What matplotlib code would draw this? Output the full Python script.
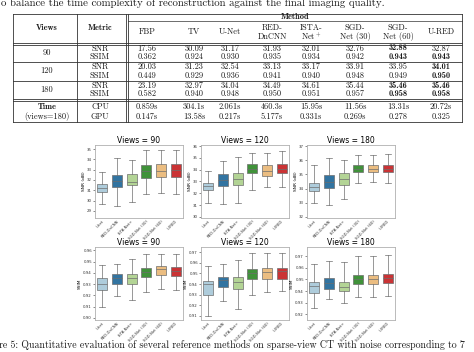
import matplotlib.pyplot as plt
import seaborn as sns
from matplotlib.lines import Line2D

plt.rcParams['mathtext.fontset'] = 'cm'

# ---------------- table data ----------------
head_top = ['FBP', 'TV', 'U-Net', 'RED-', 'ISTA-', 'SGD-', 'SGD-', 'U-RED']
head_bot = ['', '', '', 'DnCNN', r'Net$^+$', 'Net (30)', 'Net (60)', '']
snr_90 = ['17.56', '30.09', '31.17', '31.93', '32.01', '32.76', '32.88', '32.87']
ssim_90 = ['0.362', '0.924', '0.930', '0.935', '0.934', '0.942', '0.943', '0.943']
snr_120 = ['20.03', '31.23', '32.54', '33.13', '33.17', '33.91', '33.95', '34.01']
ssim_120 = ['0.449', '0.929', '0.936', '0.941', '0.940', '0.948', '0.949', '0.950']
snr_180 = ['23.19', '32.97', '34.04', '34.49', '34.61', '35.44', '35.46', '35.46']
ssim_180 = ['0.582', '0.940', '0.948', '0.950', '0.951', '0.957', '0.958', '0.958']
cpu_time = ['0.859s', '304.1s', '2.061s', '460.3s', '15.95s', '11.56s', '13.31s', '20.72s']
gpu_time = ['0.147s', '13.58s', '0.217s', '5.177s', '0.331s', '0.269s', '0.278', '0.325']
bold_90 = [[6], [6, 7]]
bold_120 = [[7], [7]]
bold_180 = [[6, 7], [6, 7]]

# ---------------- box plot data (whislo, q1, med, q3, whishi) ----------------
box_methods = ['Unet', 'RED-DnCNN', 'ISTA-Net+', 'SGD-Net (30)', 'SGD-Net (60)', 'U-RED']
box_colors = ['#a6cee3', '#1f78b4', '#b2df8a', '#33a02c', '#fdbf6f', '#e31a1c']
snr_box_90 = [(29.7, 30.8, 31.2, 31.6, 32.8), (29.5, 31.3, 31.9, 32.5, 34.1),
              (29.9, 31.5, 31.8, 32.6, 33.9), (30.6, 32.2, 32.9, 33.5, 34.9),
              (30.7, 32.3, 32.9, 33.6, 34.9), (30.6, 32.3, 33.0, 33.6, 34.9)]
snr_box_120 = [(31.2, 32.3, 32.6, 32.9, 33.9), (31.1, 32.6, 33.1, 33.6, 34.7),
               (31.2, 32.7, 33.2, 33.7, 35.1), (32.3, 33.7, 34.1, 34.5, 35.4),
               (32.5, 33.5, 33.9, 34.4, 35.4), (32.5, 33.7, 34.1, 34.5, 35.6)]
snr_box_180 = [(33.0, 33.8, 34.1, 34.4, 35.7), (32.8, 34.05, 34.5, 34.95, 36.2),
               (33.25, 34.27, 34.7, 35.07, 36.05), (34.4, 35.16, 35.4, 35.64, 36.4),
               (34.45, 35.16, 35.4, 35.64, 36.4), (34.4, 35.16, 35.4, 35.66, 36.45)]
ssim_box_90 = [(0.910, 0.925, 0.930, 0.935, 0.947), (0.919, 0.9305, 0.935, 0.9394, 0.948),
               (0.916, 0.930, 0.935, 0.9394, 0.952), (0.923, 0.936, 0.941, 0.944, 0.957),
               (0.926, 0.938, 0.943, 0.946, 0.957), (0.925, 0.937, 0.942, 0.945, 0.957)]
ssim_box_120 = [(0.910, 0.930, 0.940, 0.943, 0.957), (0.924, 0.937, 0.9435, 0.947, 0.959),
                (0.9165, 0.935, 0.942, 0.947, 0.963), (0.930, 0.945, 0.950, 0.954, 0.969),
                (0.932, 0.945, 0.951, 0.955, 0.969), (0.933, 0.945, 0.952, 0.955, 0.969)]
ssim_box_180 = [(0.925, 0.938, 0.944, 0.948, 0.963), (0.933, 0.942, 0.947, 0.951, 0.966),
                (0.930, 0.940, 0.9435, 0.948, 0.965), (0.935, 0.946, 0.950, 0.954, 0.970),
                (0.935, 0.946, 0.950, 0.954, 0.970), (0.936, 0.947, 0.951, 0.955, 0.971)]

fig = plt.figure(figsize=(4.74, 3.52), dpi=100)
page = fig.add_axes([0, 0, 1, 1])
page.set_xlim(0, 474)
page.set_ylim(352, 0)
page.axis('off')

ink = '#1a1a1a'
rm = dict(family='cmr10', color=ink, ha='center', va='center')
bf = dict(family='cmb10', color=ink, ha='center', va='center')

page.text(1, 3, 'o balance the time complexity of reconstruction against the final imaging quality.',
          family='cmr10', fontsize=7.8, color=ink, ha='left', va='center')

# table grid
x0, x1 = 13, 462
for y in [13.5, 42.5, 44.5, 62, 80.5, 98.5, 100.5, 122]:
    page.add_line(Line2D([x0, x1], [y, y], color='#333', lw=0.6))
page.add_line(Line2D([128, x1], [21, 21], color='#333', lw=0.5))
for x in [x0, 77, 126, 128, x1]:
    page.add_line(Line2D([x, x], [13.5, 122], color='#333', lw=0.6))

col_x = [147, 194, 230, 272, 311, 355, 398, 441]
fs = 6.0
page.text(295, 17, 'Method', fontsize=fs, **bf)
page.text(47, 28.5, 'Views', fontsize=fs, **bf)
page.text(100, 28.5, 'Metric', fontsize=fs, **bf)
for x, t, b in zip(col_x, head_top, head_bot):
    if b:
        page.text(x, 27.5, t, fontsize=fs, **rm)
        page.text(x, 36.5, b, fontsize=fs, **rm)
    else:
        page.text(x, 32, t, fontsize=fs, **rm)

rows = [('90', snr_90, ssim_90, bold_90, 48.5, 57),
        ('120', snr_120, ssim_120, bold_120, 67, 75.5),
        ('180', snr_180, ssim_180, bold_180, 85.5, 94)]
for v, snr, ssim, bold, ya, yb in rows:
    page.text(47, (ya + yb) / 2, v, fontsize=fs, **rm)
    page.text(100, ya, 'SNR', fontsize=fs, **rm)
    page.text(100, yb, 'SSIM', fontsize=fs, **rm)
    for i, x in enumerate(col_x):
        page.text(x, ya, snr[i], fontsize=fs, **(bf if i in bold[0] else rm))
        page.text(x, yb, ssim[i], fontsize=fs, **(bf if i in bold[1] else rm))

page.text(47, 107, 'Time', fontsize=fs, **bf)
page.text(47, 116.5, '(views=180)', fontsize=fs, **rm)
page.text(100, 107, 'CPU', fontsize=fs, **rm)
page.text(100, 116.5, 'GPU', fontsize=fs, **rm)
for i, x in enumerate(col_x):
    page.text(x, 107, cpu_time[i], fontsize=fs, **rm)
    page.text(x, 116.5, gpu_time[i], fontsize=fs, **rm)

page.text(-1, 345, 're 5: Quantitative evaluation of several reference methods on sparse-view CT with noise corresponding to 7',
          family='cmr10', fontsize=7.1, color=ink, ha='left', va='center')

# ---------------- box plots ----------------
panels = [(snr_box_90, 'Views = 90', 'SNR (dB)', (28.3, 35.4), [29, 30, 31, 32, 33, 34, 35]),
          (snr_box_120, 'Views = 120', 'SNR (dB)', (29.9, 36.1), [30, 31, 32, 33, 34, 35, 36]),
          (snr_box_180, 'Views = 180', 'SNR (dB)', (31.9, 37.1), [32, 33, 34, 35, 36, 37]),
          (ssim_box_90, 'Views = 90', 'SSIM', (0.898, 0.963), [0.90, 0.91, 0.92, 0.93, 0.94, 0.95, 0.96]),
          (ssim_box_120, 'Views = 120', 'SSIM', (0.906, 0.975), [0.91, 0.92, 0.93, 0.94, 0.95, 0.96, 0.97]),
          (ssim_box_180, 'Views = 180', 'SSIM', (0.915, 0.978), [0.92, 0.93, 0.94, 0.95, 0.96, 0.97])]
lefts = [95, 201, 307]
tops = [145, 247]
w, h = 88, 73
line_c = '#6e6e6e'
for k, (data, title, ylab, ylim, yticks) in enumerate(panels):
    l = lefts[k % 3]
    t = tops[k // 3]
    ax = fig.add_axes([l / 474, 1 - (t + h) / 352, w / 474, h / 352])
    stats = [dict(whislo=s[0], q1=s[1], med=s[2], q3=s[3], whishi=s[4], label=m)
             for s, m in zip(data, box_methods)]
    bp = ax.bxp(stats, showfliers=False, patch_artist=True, widths=0.7, capwidths=0.4,
                boxprops=dict(edgecolor=line_c, linewidth=0.5),
                whiskerprops=dict(color=line_c, linewidth=0.5),
                capprops=dict(color=line_c, linewidth=0.5),
                medianprops=dict(color=line_c, linewidth=0.5))
    for patch, c in zip(bp['boxes'], box_colors):
        patch.set_facecolor(sns.desaturate(c, 0.75))
    ax.set_ylim(*ylim)
    ax.set_yticks(yticks)
    ax.set_xlim(0.5, 6.5)
    ax.set_title(title, fontsize=5.5, pad=1.5)
    ax.set_ylabel(ylab, fontsize=3.2, labelpad=1)
    ax.tick_params(axis='both', labelsize=2.8, length=1.2, width=0.4, pad=1, colors='#333')
    ax.tick_params(axis='x', length=0)
    for lab in ax.get_xticklabels():
        lab.set_rotation(45)
        lab.set_ha('right')
        lab.set_rotation_mode('anchor')
    for sp in ax.spines.values():
        sp.set_color('#b0b0b0')
        sp.set_linewidth(0.6)

fig.savefig('out.png', dpi=100)
